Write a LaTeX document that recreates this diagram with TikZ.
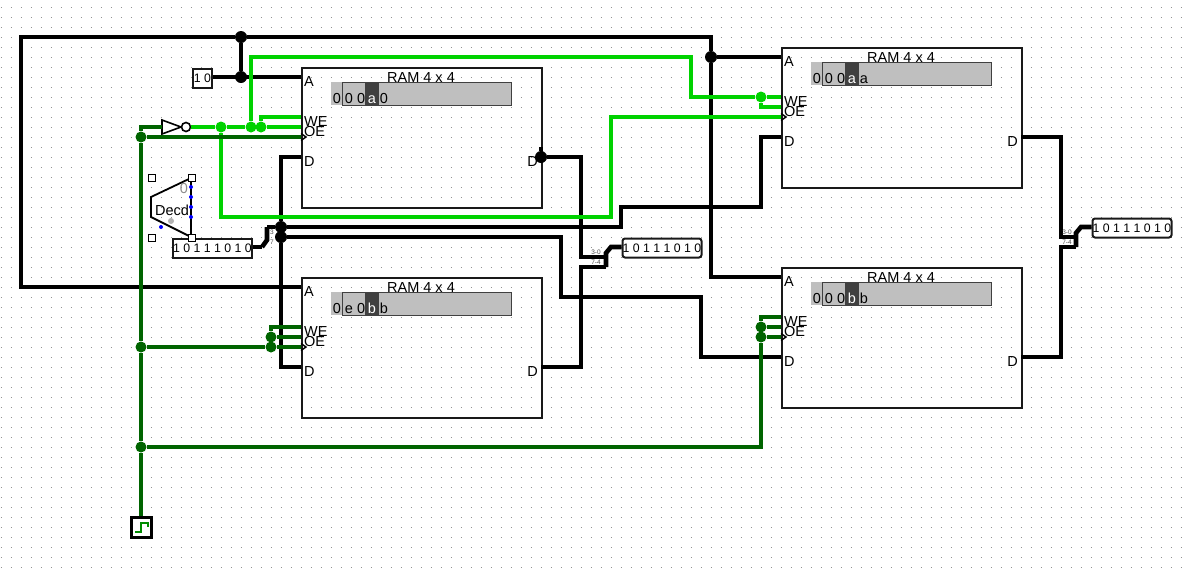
\documentclass[tikz,border=0pt]{standalone}
\usepackage{fontspec}
\setmainfont{Liberation Sans}
\usepackage{tikz}
\begin{document}
\begin{tikzpicture}[x=1pt, y=-1pt, inner sep=0pt]

\tikzstyle{griddots} = [gray!85, line width=1pt, dash pattern=on 1pt off 9pt]
\tikzstyle{ram} = [rectangle, anchor=north west, minimum width=240pt, minimum height=140pt, draw=black!90, line width=2.2pt]
\tikzstyle{lab} = [font=\fontsize{14.5}{14.5}\selectfont, text height=10pt, text depth=0pt]
\tikzstyle{display} = [rectangle, anchor=north west, minimum height=23pt, fill=black!25]
\tikzstyle{bitpin} = [rectangle, minimum width=79pt, minimum height=19pt, draw=black!90, line width=2pt, fill=white, font=\fontsize{12.3}{12.3}\selectfont]
\tikzstyle{handle} = [rectangle, minimum size=7pt, draw=black, line width=1pt, fill=white]
\tikzstyle{tiny} = [font=\fontsize{6.5}{6.5}\selectfont, text=black!70]
\tikzstyle{bus} = [line width=4.6pt, black, line join=miter]
\tikzstyle{thinbus} = [line width=3.4pt, black]
\tikzstyle{hi} = [line width=3.6pt, color={rgb,255:red,0;green,210;blue,0}]
\tikzstyle{lo} = [line width=3.6pt, color={rgb,255:red,0;green,100;blue,0}]
\tikzstyle{dotk} = [circle, minimum size=12pt, fill=black]
\tikzstyle{dothi} = [circle, minimum size=11pt, fill={rgb,255:red,0;green,210;blue,0}]
\tikzstyle{dotlo} = [circle, minimum size=11pt, fill={rgb,255:red,0;green,100;blue,0}]

\useasboundingbox (0,0) rectangle (1182,571);

% grid
\foreach \y in {7.3,17.3,...,567.3}
  \draw [griddots] (0.9,\y) -- (1181,\y);

% the four memories
\foreach \n/\x/\y/\head/\cur/\tail in {ramA/301/67/0 0 0/a/0, ramB/301/277/0 e 0/b/b, ramC/781/47/0 0 0/a/a, ramD/781/267/0 0 0/b/b} {
  \node (\n) [ram] at (\x-0.5,\y-0.5) {};
  \node (\n-title) [lab] at (\x+120,\y+10) {RAM 4 x 4};
  \node (\n-strip) [display, minimum width=12pt] at (\x+30,\y+15) {};
  \node (\n-disp) [display, minimum width=169pt, draw=black!75, line width=1pt] at (\x+41,\y+15) {};
  \node (\n-cell) [display, minimum width=14pt, fill=black!75] at (\x+64,\y+15) {};
  \node (\n-head) [lab] at (\x+48,\y+31) {\head};
  \node (\n-cur) [lab, text=white] at (\x+71,\y+31) {\cur};
  \node (\n-tail) [lab] at (\x+83,\y+31) {\tail};
  \node (\n-la) [lab, anchor=west] at (\x+3,\y+14) {A};
  \node (\n-lwe) [lab, anchor=west] at (\x+3,\y+54) {WE};
  \node (\n-loe) [lab, anchor=west] at (\x+3,\y+64) {OE};
  \node (\n-ld) [lab, anchor=west] at (\x+3,\y+94) {D};
  \node (\n-lq) [lab, anchor=east] at (\x+237,\y+94) {D};
  \coordinate (\n-a) at (\x,\y+10);
  \coordinate (\n-we) at (\x,\y+50);
  \coordinate (\n-oe) at (\x,\y+60);
  \coordinate (\n-clk) at (\x,\y+70);
  \coordinate (\n-d) at (\x,\y+90);
  \coordinate (\n-q) at (\x+240,\y+90);
  \draw [line width=1.4pt] (\x,\y+66.5) -- (\x+5,\y+70) -- (\x,\y+73.5);
}

% pins
\node (pinAddr) [bitpin, minimum width=19pt] at (202.5,78.5) {1 0};
\node (pinDec) [bitpin] at (212.5,248.5) {1 0 1 1 1 0 1 0};
\node (pinMid) [bitpin, rounded corners=2.5pt] at (662,248) {1 0 1 1 1 0 1 0};
\node (pinOut) [bitpin, rounded corners=2.5pt] at (1132,228) {1 0 1 1 1 0 1 0};

% junctions on the address and data wires
\node (jTop) [dotk] at (241,37) {};
\node (jAddr) [dotk] at (241,77) {};
\node (jRight) [dotk] at (711,57) {};
\node (jQ) [dotk] at (541,157) {};
\node (jSplitA) [dotk] at (281,227) {};
\node (jSplitB) [dotk] at (281,237) {};

% address wires
\coordinate (loopTL) at (21,37);
\coordinate (loopBL) at (21,287);
\coordinate (loopTR) at (711,37);
\draw [bus] (ramB-a) -- (loopBL) -- (loopTL) -- (jTop) -- (loopTR) -- (jRight) |- (ramD-a);
\draw [bus] (jTop) -- (jAddr);
\draw [bus] (jRight) -- (ramC-a);
\draw [bus] (pinAddr.east |- jAddr) -- (ramA-a);

% data wires from the left splitter
\coordinate (splitL) at (267,227);
\coordinate (bendA) at (621,227);
\coordinate (bendB) at (621,207);
\coordinate (bendC) at (761,207);
\coordinate (bendD) at (561,237);
\coordinate (bendE) at (561,297);
\coordinate (bendF) at (701,297);
\coordinate (bendG) at (701,357);
\coordinate (stemL) at (262,247);
\draw [bus] (splitL) -- (jSplitA) -- (bendA) -- (bendB) -- (bendC) |- (ramC-d);
\draw [bus] (jSplitB) -- (bendD) -- (bendE) -- (bendF) -- (bendG) -- (ramD-d);
\draw [bus] (ramA-d) -| (jSplitA) -- (jSplitB) |- (ramB-d);
\draw [bus] (stemL) -- (267,240) -- (splitL);
\draw [thinbus] (pinDec.east |- stemL) -- (stemL);
\node (tinyLa) [tiny] at (272,232) {3};
\node (tinyLb) [tiny] at (272,242) {7};

% middle splitter
\coordinate (midA) at (581,157);
\coordinate (midB) at (581,257);
\coordinate (midC) at (606,257);
\coordinate (midD) at (581,267);
\coordinate (midE) at (606,267);
\coordinate (midF) at (581,367);
\draw [bus] (ramA-q) ++(0,-10) -- (jQ);
\draw [bus] (jQ) -- (midA) -- (midB) -- (midC);
\draw [bus] (midE) -- (midD) -- (midF) -- (ramB-q);
\draw [bus] (midE) -- (606,253) -- (611,247) -- (pinMid.west |- 0,247);
\node (tinyMa) [tiny] at (596,252) {3-0};
\node (tinyMb) [tiny] at (596,262) {7-4};

% output splitter
\coordinate (outA) at (1061,137);
\coordinate (outB) at (1061,237);
\coordinate (outC) at (1076,237);
\coordinate (outD) at (1061,247);
\coordinate (outE) at (1076,247);
\coordinate (outF) at (1061,357);
\draw [bus] (ramC-q) -- (outA) -- (outB) -- (outC);
\draw [bus] (ramD-q) -- (outF) -- (outD) -- (outE);
\draw [bus] (outE) -- (1076,233) -- (1081,227) -- (pinOut.west |- 0,227);
\node (tinyOa) [tiny] at (1067,232) {3-0};
\node (tinyOb) [tiny] at (1067,242) {7-4};

% inverter
\coordinate (invIn) at (162,127);
\coordinate (invTip) at (181,127);
\draw [line width=1.6pt, fill=white] (162,120) -- (invTip) -- (162,134) -- cycle;
\node (invOut) [circle, minimum size=9pt, draw=black, line width=1.6pt, fill=white] at (186,127) {};

% write and output enable, high
\node (jWe) [dothi] at (261,127) {};
\node (jLong) [dothi] at (251,127) {};
\node (jBack) [dothi] at (221,127) {};
\node (jRamC) [dothi] at (761,97) {};
\coordinate (hiA) at (251,57);
\coordinate (hiB) at (691,57);
\coordinate (hiC) at (691,97);
\coordinate (hiD) at (221,217);
\coordinate (hiE) at (611,217);
\coordinate (hiF) at (611,117);
\draw [hi] (invOut) -- (jBack) -- (jLong) -- (jWe) -- (ramA-oe);
\draw [hi] (jWe) |- (ramA-we);
\draw [hi] (jLong) -- (hiA) -- (hiB) -- (hiC) -- (jRamC) -- (ramC-we);
\draw [hi] (jRamC) |- (ramC-oe);
\draw [hi] (jBack) -- (hiD) -- (hiE) -- (hiF) -- (ramC-clk);

% clock, low
\node (clock) [rectangle, minimum size=20pt, draw=black, line width=2.4pt, fill=white] at (141.5,527.5) {};
\node (jClkA) [dotlo] at (141,137) {};
\node (jClkB) [dotlo] at (141,347) {};
\node (jClkC) [dotlo] at (141,447) {};
\node (jB1) [dotlo] at (271,347) {};
\node (jB2) [dotlo] at (271,337) {};
\node (jD1) [dotlo] at (761,337) {};
\node (jD2) [dotlo] at (761,327) {};
\coordinate (loTop) at (141,127);
\draw [lo] (clock.north -| jClkC) -- (jClkC) -- (jClkB) -- (jClkA) -- (loTop) -- (invIn);
\draw [lo] (jClkA) -- (ramA-clk);
\draw [lo] (jClkB) -- (jB1) -- (ramB-clk);
\draw [lo] (jB1) -- (jB2) -- (ramB-oe);
\draw [lo] (jB2) |- (ramB-we);
\draw [lo] (jClkC) -| (jD1) -- (ramD-clk);
\draw [lo] (jD1) -- (jD2) -- (ramD-oe);
\draw [lo] (jD2) |- (ramD-we);
\draw [color={rgb,255:red,0;green,140;blue,0}, line width=1.8pt] (135,532) -- (141,532) -- (141,523) -- (148,523) -- (148,527);

% decoder
\draw [line width=1.8pt] (191,178) -- (151,197) -- (151,217) -- (191,237) -- cycle;
\node (decLabel) [lab] at (172,210) {Decd};
\node (decZero) [lab, text=black!45] at (184,188) {0};
\node (decH1) [handle] at (152,178) {};
\node (decH2) [handle] at (192,178) {};
\node (decH3) [handle] at (152,238) {};
\node (decH4) [handle] at (192,238) {};
\foreach \y in {187,197,207,217}
  \fill [blue] (191,\y) circle (2pt);
\fill [blue] (161,227) circle (2pt);
\fill [black!30] (171,221) circle (3pt);
\end{tikzpicture}
\end{document}
